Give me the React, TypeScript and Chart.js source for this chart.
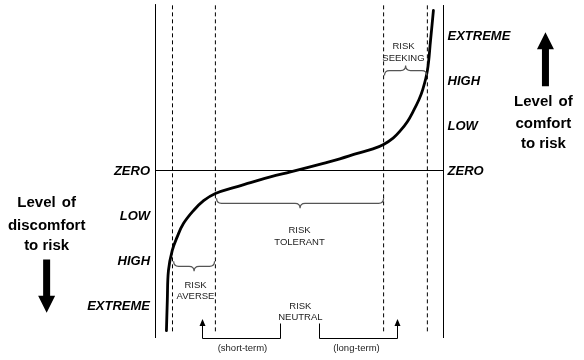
import React, { useEffect, useRef } from "react";
import { Chart, registerables } from "chart.js";

Chart.register(...registerables);

// Risk-attitude curve: x = position along the spectrum (0..100), y = comfort level (-3..3 scale)
const curveX = [3.8, 4.1, 4.5, 5.8, 7.5, 9.7, 13.2, 16.7, 20.8, 27.1, 33.0, 39.9, 46.9, 53.0, 58.3, 64.0, 70.1, 75.5, 79.2, 82.5, 85.1, 87.5, 89.6, 91.3, 92.7, 94.4, 95.5, 96.5];
const curveY = [-3.56, -2.89, -2.22, -1.78, -1.48, -1.18, -0.89, -0.67, -0.51, -0.38, -0.27, -0.14, -0.03, 0.07, 0.16, 0.26, 0.38, 0.48, 0.58, 0.72, 0.89, 1.09, 1.33, 1.55, 1.78, 2.22, 2.89, 3.56];

// Zone boundaries (dashed verticals)
const boundaries = [5.9, 20.8, 79.2, 94.4];

// Level tick labels
const levelLabels = ["ZERO", "LOW", "HIGH", "EXTREME"];
const levelValues = [0, 1, 2, 3];

// Zone names
const zoneNames = [["RISK", "SEEKING"], ["RISK", "TOLERANT"], ["RISK", "AVERSE"], ["RISK", "NEUTRAL"]];
const termLabels = ["(short-term)", "(long-term)"];
const sideLeft = ["Level of", "discomfort", "to risk"];
const sideRight = ["Level of", "comfort", "to risk"];

const Y_MIN = -3.7;
const Y_MAX = 3.7;

const overlay = {
  id: "overlay",
  afterDatasetsDraw(chart: any) {
    const ctx = chart.ctx as CanvasRenderingContext2D;
    const xs = chart.scales.x;
    const ys = chart.scales.y;
    const px = (v: number) => xs.getPixelForValue(v);
    const py = (v: number) => ys.getPixelForValue(v);
    ctx.save();

    // level labels
    ctx.fillStyle = "#000";
    ctx.font = "italic bold 13px 'Liberation Sans', Arial, sans-serif";
    ctx.textBaseline = "middle";
    levelLabels.forEach((lab, i) => {
      ctx.textAlign = "right";
      ctx.fillText(lab, px(-1.9), py(-levelValues[i]) + 1);
      ctx.textAlign = "left";
      ctx.fillText(lab, px(101.4), py(levelValues[i]) + 1);
    });

    // braces
    const brace = (x1: number, x2: number, yv: number, dir: number) => {
      const a = px(x1), b = px(x2), yy = py(yv);
      const m = (a + b) / 2;
      const r = 5;
      ctx.beginPath();
      ctx.moveTo(a, yy - dir * 5);
      ctx.quadraticCurveTo(a, yy, a + r, yy);
      ctx.lineTo(m - r, yy);
      ctx.quadraticCurveTo(m, yy, m, yy + dir * 5);
      ctx.quadraticCurveTo(m, yy, m + r, yy);
      ctx.lineTo(b - r, yy);
      ctx.quadraticCurveTo(b, yy, b, yy - dir * 5);
      ctx.stroke();
    };
    ctx.strokeStyle = "#555";
    ctx.lineWidth = 1.2;
    brace(79.5, 94.2, 2.22, -1);
    brace(21.2, 79.2, -0.73, 1);
    brace(6.3, 20.5, -2.13, 1);

    // zone texts
    ctx.fillStyle = "#222";
    ctx.font = "9.5px 'Liberation Sans', Arial, sans-serif";
    ctx.textAlign = "center";
    const zonePos = [
      [86.1, 2.76, 2.49],
      [50.0, -1.33, -1.6],
      [13.9, -2.56, -2.8],
      [50.3, -3.02, -3.27],
    ];
    zoneNames.forEach((lines, i) => {
      const [cx, y1, y2] = zonePos[i];
      ctx.fillText(lines[0], px(cx), py(y1));
      ctx.fillText(lines[1], px(cx), py(y2));
    });
    ctx.fillText(termLabels[0], px(30.2), py(-3.96));
    ctx.fillText(termLabels[1], px(69.8), py(-3.96));

    // short/long-term brackets with arrows
    ctx.strokeStyle = "#000";
    ctx.fillStyle = "#000";
    ctx.lineWidth = 1;
    const bracket = (fromX: number, toX: number) => {
      const a = Math.round(px(fromX)) + 0.5, b = Math.round(px(toX)) + 0.5;
      const top = py(-3.4), bot = Math.round(py(-3.72)) + 0.5, tip = py(-3.3);
      ctx.beginPath();
      ctx.moveTo(a, top);
      ctx.lineTo(a, bot);
      ctx.lineTo(b, bot);
      ctx.lineTo(b, tip + 4);
      ctx.stroke();
      ctx.beginPath();
      ctx.moveTo(b, tip);
      ctx.lineTo(b - 3, tip + 7);
      ctx.lineTo(b + 3, tip + 7);
      ctx.closePath();
      ctx.fill();
    };
    bracket(43.4, 16.3);
    bracket(56.6, 84.0);

    // side labels
    ctx.fillStyle = "#000";
    ctx.font = "bold 15px 'Liberation Sans', Arial, sans-serif";
    ctx.textAlign = "center";
    ctx.textBaseline = "middle";
    const drawLines = (lines: string[], cx: number, yv: number[]) => {
      lines.forEach((t, i) => {
        (ctx as any).wordSpacing = i === 0 ? "2px" : "0px";
        ctx.fillText(t, px(cx), py(yv[i]));
      });
      (ctx as any).wordSpacing = "0px";
    };
    drawLines(sideRight, 134.7, [1.53, 1.04, 0.6]);
    drawLines(sideLeft, -37.8, [-0.73, -1.22, -1.67]);

    // big arrows
    const bigArrow = (cx: number, yTail: number, yTip: number) => {
      const x0 = px(cx), t = py(yTail), p = py(yTip);
      const dir = p < t ? -1 : 1;
      const head = 17;
      const base = p - dir * head;
      ctx.beginPath();
      ctx.moveTo(x0 - 3.5, t);
      ctx.lineTo(x0 + 3.5, t);
      ctx.lineTo(x0 + 3.5, base);
      ctx.lineTo(x0 + 8.5, base);
      ctx.lineTo(x0, p);
      ctx.lineTo(x0 - 8.5, base);
      ctx.lineTo(x0 - 3.5, base);
      ctx.closePath();
      ctx.fill();
    };
    bigArrow(135.4, 1.87, 3.07);
    bigArrow(-37.8, -1.98, -3.16);

    ctx.restore();
  },
};

export default function App() {
  const ref = useRef<HTMLCanvasElement>(null);
  useEffect(() => {
    if (!ref.current) return;
    const curve = curveX.map((x, i) => ({ x, y: curveY[i] }));
    const dashed = boundaries.map((b) => ({
      data: [{ x: b, y: 3.67 }, { x: b, y: -3.6 }],
      borderColor: "#000",
      borderWidth: 1,
      borderDash: [4, 3],
      pointRadius: 0,
      clip: false as any,
      tension: 0,
    }));
    const solid = [
      [{ x: 0, y: 3.69 }, { x: 0, y: -3.72 }],
      [{ x: 100, y: 3.67 }, { x: 100, y: -3.72 }],
      [{ x: 0, y: 0 }, { x: 100, y: 0 }],
    ].map((d) => ({
      data: d,
      borderColor: "#000",
      borderWidth: 1,
      pointRadius: 0,
      clip: false as any,
      tension: 0,
    }));
    const chart = new Chart(ref.current, {
      type: "line",
      data: {
        datasets: [
          ...solid,
          ...dashed,
          {
            data: curve,
            borderColor: "#000",
            borderWidth: 2.8,
            pointRadius: 0,
            tension: 0.4,
            borderCapStyle: "round",
            borderJoinStyle: "round",
            clip: false as any,
          } as any,
        ],
      },
      options: {
        animation: false,
        responsive: false,
        maintainAspectRatio: false,
        layout: { padding: { left: 155.5, right: 140.5, top: 4, bottom: 23 } },
        plugins: { legend: { display: false }, tooltip: { enabled: false } },
        scales: {
          x: { type: "linear", min: 0, max: 100, display: false },
          y: { type: "linear", min: Y_MIN, max: Y_MAX, display: false },
        },
      },
      plugins: [overlay],
    });
    return () => chart.destroy();
  }, []);
  return (
    <div style={{ position: "fixed", left: 0, top: 0, width: 584, height: 360, background: "#fff" }}>
      <canvas ref={ref} width={584} height={360} style={{ display: "block" }} />
    </div>
  );
}
